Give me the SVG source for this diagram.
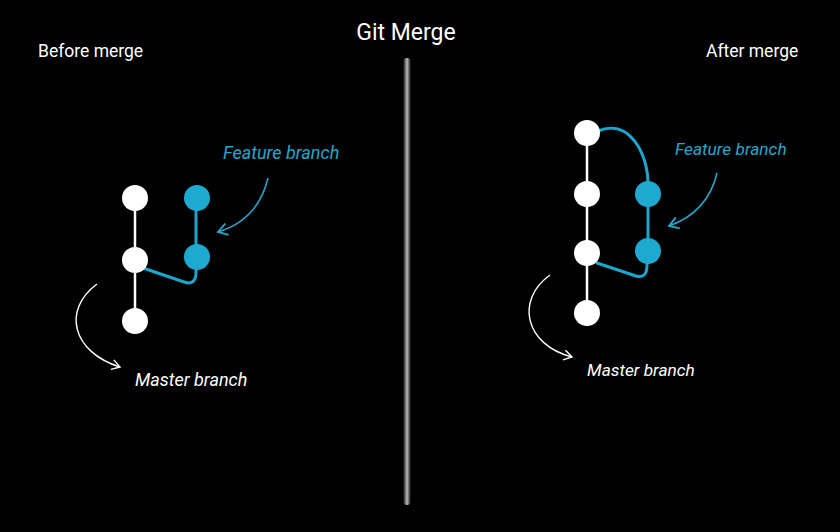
<svg xmlns="http://www.w3.org/2000/svg" width="840" height="532" viewBox="0 0 840 532">
<defs>
<linearGradient id="bar" x1="0" y1="0" x2="1" y2="0">
<stop offset="0" stop-color="#000"/>
<stop offset="0.5" stop-color="#bdbdbd"/>
<stop offset="1" stop-color="#000"/>
</linearGradient>
<marker id="wh" viewBox="0 0 12 12" refX="10" refY="6" markerWidth="12" markerHeight="12" markerUnits="userSpaceOnUse" orient="auto">
<path d="M2,1 L10,6 L2,11" fill="none" stroke="#fff" stroke-width="1.4"/>
</marker>
<marker id="bl" viewBox="0 0 12 12" refX="10" refY="6" markerWidth="14" markerHeight="14" markerUnits="userSpaceOnUse" orient="auto">
<path d="M2,1 L10,6 L2,11" fill="none" stroke="#2aa3c6" stroke-width="1.6"/>
</marker>
</defs>
<style>
text{font-family:Roboto,"Liberation Sans",sans-serif;}
.t{fill:#fff;font-size:17.5px;}
.lab{font-size:18px;font-style:italic;}
.labr{font-size:17.3px;font-style:italic;}
.w{fill:#fff;}
.b{fill:#1eaad0;}
.mline{stroke:#fff;stroke-width:2.5;fill:none;}
.fline{stroke:#1ea5cc;stroke-width:3;fill:none;stroke-linecap:round;stroke-linejoin:round;}
.warr{stroke:#fff;stroke-width:1.4;fill:none;}
.barr{stroke:#2aa3c6;stroke-width:1.6;fill:none;}
</style>
<rect width="840" height="532" fill="#000"/>
<g id="title"><text x="406" y="40" text-anchor="middle" fill="#fff" font-size="23">Git Merge</text></g>
<g id="before-label"><text class="t" x="38" y="57">Before merge</text></g>
<g id="after-label"><text class="t" x="706" y="57">After merge</text></g>
<g id="divider"><rect x="403" y="58" width="8" height="447" rx="4" fill="url(#bar)"/></g>
<g id="connectors">
<line class="mline" x1="135" y1="198" x2="135" y2="322"/>
<path class="fline" d="M143,268 L184,282 Q196,286 196,272 L196,198"/>
<path class="barr" d="M268,178 Q258,220 218,232" marker-end="url(#bl)"/>
<path class="warr" d="M97,284 C62,310 72,352 120,367" marker-end="url(#wh)"/>
<line class="mline" x1="587" y1="133" x2="587" y2="313"/>
<path class="fline" d="M598,131 C628,118 648,152 648,184 L648,252"/>
<path class="fline" d="M597,263 L636,276 Q647,279 647,265 L647,252"/>
<path class="barr" d="M717,173 Q708,212 669,226" marker-end="url(#bl)"/>
<path class="warr" d="M550,275 C515,300 525,345 572,357" marker-end="url(#wh)"/>
</g>
<g id="before-master"><circle class="w" cx="135" cy="198" r="13"/><circle class="w" cx="135" cy="260" r="13"/><circle class="w" cx="135" cy="321" r="13"/></g>
<g id="before-feature"><circle class="b" cx="197" cy="198" r="13"/><circle class="b" cx="197" cy="257" r="13"/></g>
<g id="after-master"><circle class="w" cx="587" cy="133" r="13"/><circle class="w" cx="587" cy="194" r="13"/><circle class="w" cx="587" cy="253" r="13"/><circle class="w" cx="587" cy="313" r="13"/></g>
<g id="after-feature"><circle class="b" cx="648" cy="194" r="13"/><circle class="b" cx="648" cy="251" r="13"/></g>
<g id="before-feature-label"><text class="lab" x="223" y="159" fill="#29a6c9">Feature branch</text></g>
<g id="before-master-label"><text class="lab" x="135" y="386" fill="#fff">Master branch</text></g>
<g id="after-feature-label"><text class="labr" x="675" y="155" fill="#29a6c9">Feature branch</text></g>
<g id="after-master-label"><text class="labr" x="587" y="376" fill="#fff">Master branch</text></g>
</svg>
